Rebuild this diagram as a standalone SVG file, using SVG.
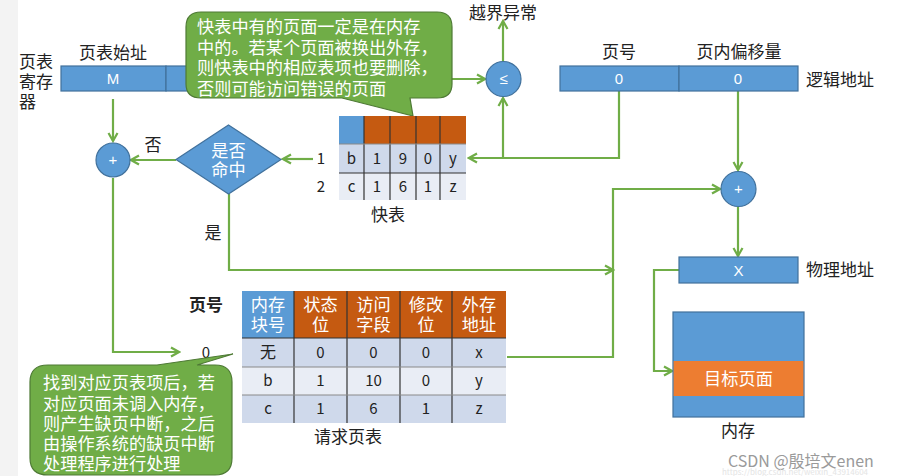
<svg xmlns="http://www.w3.org/2000/svg" width="909" height="476" viewBox="0 0 909 476">
<style>
text{font-family:"Noto Sans CJK SC","Noto Sans",sans-serif;}
.lbl{font-size:17px;fill:#222;}
.wt{fill:#fff;font-size:15px;font-family:"Liberation Sans","Noto Sans",sans-serif;}
.ct{fill:#fff;font-size:17.2px;}
.bar{fill:#5B9BD5;stroke:#41719C;stroke-width:1.2;}
.cir{fill:#5B9BD5;stroke:#41719C;stroke-width:1.2;}
.con{fill:none;stroke:#70AD47;stroke-width:2.2;}
.hb{fill:#5B9BD5;}
.ho{fill:#C55A11;}
.r1{fill:#CFD9EB;}
.r2{fill:#E9EDF5;}
.gl{stroke:#333;stroke-width:1.2;}
.cell{font-size:15px;fill:#222;}
.co{fill:#70AD47;stroke:#4E7A35;stroke-width:1.2;}
</style>
<defs>
<marker id="ah" markerUnits="userSpaceOnUse" markerWidth="12" markerHeight="12" viewBox="0 0 12 12" refX="10" refY="6" orient="auto">
<path d="M2,1.5 L10,6 L2,10.5" fill="none" stroke="#70AD47" stroke-width="2.2"/>
</marker>
</defs>
<rect width="909" height="476" fill="#fff"/>
<rect x="0" y="0" width="18" height="476" fill="#f3f3f3"/>

<g id="connectors">
<path class="con" d="M113,99 L113,141" marker-end="url(#ah)"/>
<path class="con" d="M176,160 L131,160" marker-end="url(#ah)"/>
<path class="con" d="M313,159 L283,159" marker-end="url(#ah)"/>
<path class="con" d="M619,91 L619,158 L469,158" marker-end="url(#ah)"/>
<path class="con" d="M503,158 L503,98" marker-end="url(#ah)"/>
<path class="con" d="M452,79 L485,79" marker-end="url(#ah)"/>
<path class="con" d="M503,61 L503,21" marker-end="url(#ah)"/>
<path class="con" d="M738,91 L738,170" marker-end="url(#ah)"/>
<path class="con" d="M738,207 L738,256" marker-end="url(#ah)"/>
<path class="con" d="M229,194 L229,270 L613,270" marker-end="url(#ah)"/>
<path class="con" d="M507,357 L613,357 L613,189 L720,189" marker-end="url(#ah)"/>
<path class="con" d="M113,178 L113,352 L179,352" marker-end="url(#ah)"/>
<path class="con" d="M679,270 L654,270 L654,371 L672,371" marker-end="url(#ah)"/>
</g>

<g id="page-table-register">
<text class="lbl" x="19" y="68">页表</text>
<text class="lbl" x="19" y="88">寄存</text>
<text class="lbl" x="19" y="108">器</text>
<text class="lbl" x="113" y="59" text-anchor="middle">页表始址</text>
<rect class="bar" x="61" y="66" width="105" height="25"/>
<rect class="bar" x="166" y="66" width="100" height="25"/>
<text class="wt" x="113" y="84" text-anchor="middle">M</text>
</g>

<g id="callout-top">
<path class="co" d="M201,12 L437,12 Q452,12 452,27 L452,84 Q452,98 437,98 L410,98 L413,116 L342,98 L201,98 Q186,98 186,84 L186,27 Q186,12 201,12 Z"/>
<text class="ct" x="197" y="33">快表中有的页面一定是在内存</text>
<text class="ct" x="197" y="53.5">中的。若某个页面被换出外存，</text>
<text class="ct" x="197" y="74">则快表中的相应表项也要删除，</text>
<text class="ct" x="197" y="94.5">否则可能访问错误的页面</text>
</g>

<g id="compare">
<circle class="cir" cx="503.5" cy="79" r="17.5"/>
<text class="wt" x="503.5" y="84" text-anchor="middle" font-size="14">≤</text>
<text class="lbl" x="503" y="19" text-anchor="middle" font-size="16">越界异常</text>
</g>

<g id="logical-address">
<text class="lbl" x="619" y="58" text-anchor="middle">页号</text>
<text class="lbl" x="739" y="58" text-anchor="middle">页内偏移量</text>
<rect class="bar" x="560" y="66" width="119" height="25"/>
<rect class="bar" x="679" y="66" width="119" height="25"/>
<text class="wt" x="619" y="84" text-anchor="middle">0</text>
<text class="wt" x="738" y="84" text-anchor="middle">0</text>
<text class="lbl" x="806" y="86">逻辑地址</text>
</g>

<g id="tlb">
<rect class="hb" x="339" y="116" width="25" height="28"/>
<rect class="ho" x="364" y="116" width="102" height="28"/>
<rect class="r1" x="339" y="144" width="127" height="29"/>
<rect class="r2" x="339" y="173" width="127" height="27"/>
<g class="gl">
<line x1="364" y1="116" x2="364" y2="200"/>
<line x1="390" y1="116" x2="390" y2="200"/>
<line x1="416" y1="116" x2="416" y2="200"/>
<line x1="440" y1="116" x2="440" y2="200"/>
<line x1="339" y1="144" x2="466" y2="144" stroke="#8a8a8a"/>
<line x1="339" y1="173" x2="466" y2="173"/>
</g>
<text class="cell" x="351.5" y="164" text-anchor="middle">b</text>
<text class="cell" x="377" y="164" text-anchor="middle">1</text>
<text class="cell" x="403" y="164" text-anchor="middle">9</text>
<text class="cell" x="428" y="164" text-anchor="middle">0</text>
<text class="cell" x="453" y="164" text-anchor="middle">y</text>
<text class="cell" x="351.5" y="192" text-anchor="middle">c</text>
<text class="cell" x="377" y="192" text-anchor="middle">1</text>
<text class="cell" x="403" y="192" text-anchor="middle">6</text>
<text class="cell" x="428" y="192" text-anchor="middle">1</text>
<text class="cell" x="453" y="192" text-anchor="middle">z</text>
<text class="cell" x="321" y="164" text-anchor="middle">1</text>
<text class="cell" x="321" y="192" text-anchor="middle">2</text>
<text class="lbl" x="388" y="221" text-anchor="middle">快表</text>
</g>

<g id="hit-decision">
<path class="cir" d="M228.5,125 L281,159.5 L228.5,194 L176,159.5 Z"/>
<text class="ct" x="228.5" y="157" text-anchor="middle">是否</text>
<text class="ct" x="228.5" y="176" text-anchor="middle">命中</text>
<text class="lbl" x="153" y="151" text-anchor="middle">否</text>
<text class="lbl" x="213" y="239" text-anchor="middle">是</text>
</g>

<g id="add-left">
<circle class="cir" cx="113" cy="160" r="17"/>
<text class="wt" x="113" y="165" text-anchor="middle" font-size="14">+</text>
</g>

<g id="add-right">
<circle class="cir" cx="738.5" cy="189" r="17.5"/>
<text class="wt" x="738.5" y="194" text-anchor="middle" font-size="14">+</text>
</g>

<g id="physical-address">
<rect class="bar" x="679" y="257" width="119" height="26"/>
<text class="wt" x="738.5" y="276" text-anchor="middle">X</text>
<text class="lbl" x="806" y="276">物理地址</text>
</g>

<g id="memory">
<rect class="bar" x="673" y="312" width="131" height="105"/>
<rect x="673.6" y="361" width="129.8" height="35" fill="#ED7D31"/>
<text class="ct" x="738.5" y="385" text-anchor="middle">目标页面</text>
<text class="lbl" x="738" y="437" text-anchor="middle">内存</text>
</g>

<g id="page-table">
<text class="lbl" x="206" y="311" text-anchor="middle" font-weight="bold">页号</text>
<text class="cell" x="206" y="358" text-anchor="middle">0</text>
<rect class="hb" x="242" y="291" width="52" height="47"/>
<rect class="ho" x="294" y="291" width="212" height="47"/>
<rect class="r1" x="242" y="338" width="264" height="29"/>
<rect class="r2" x="242" y="367" width="264" height="28"/>
<rect class="r1" x="242" y="395" width="264" height="28"/>
<g class="gl">
<line x1="294" y1="291" x2="294" y2="423"/>
<line x1="347" y1="291" x2="347" y2="423"/>
<line x1="400" y1="291" x2="400" y2="423"/>
<line x1="452" y1="291" x2="452" y2="423"/>
<line x1="242" y1="338" x2="506" y2="338"/>
<line x1="242" y1="367" x2="506" y2="367" stroke="#8a8a8a"/>
<line x1="242" y1="395" x2="506" y2="395" stroke="#8a8a8a"/>
</g>
<g class="ct" text-anchor="middle" font-size="16.5">
<text x="268" y="311">内存</text><text x="268" y="331">块号</text>
<text x="320.5" y="311">状态</text><text x="320.5" y="331">位</text>
<text x="373.5" y="311">访问</text><text x="373.5" y="331">字段</text>
<text x="426" y="311">修改</text><text x="426" y="331">位</text>
<text x="479" y="311">外存</text><text x="479" y="331">地址</text>
</g>
<g class="cell" text-anchor="middle">
<text x="268" y="358" font-size="16">无</text><text x="320.5" y="358">0</text><text x="373.5" y="358">0</text><text x="426" y="358">0</text><text x="479" y="358">x</text>
<text x="268" y="386">b</text><text x="320.5" y="386">1</text><text x="373.5" y="386">10</text><text x="426" y="386">0</text><text x="479" y="386">y</text>
<text x="268" y="414">c</text><text x="320.5" y="414">1</text><text x="373.5" y="414">6</text><text x="426" y="414">1</text><text x="479" y="414">z</text>
</g>
<text class="lbl" x="348" y="443" text-anchor="middle">请求页表</text>
</g>

<g id="callout-bottom">
<path class="co" d="M48,365 L157,365 L233,354 L197,365 L215,365 Q232,365 232,382 L232,458 Q232,475 215,475 L48,475 Q30,475 30,458 L30,382 Q30,365 48,365 Z"/>
<text class="ct" x="43" y="389">找到对应页表项后，若</text>
<text class="ct" x="43" y="410">对应页面未调入内存，</text>
<text class="ct" x="43" y="430">则产生缺页中断，之后</text>
<text class="ct" x="43" y="450">由操作系统的缺页中断</text>
<text class="ct" x="43" y="470">处理程序进行处理</text>
</g>

<g id="watermark">
<text x="728" y="467" font-size="16" fill="#9a9a9a">CSDN @殷培文enen</text>
<text x="722" y="475" font-size="8" fill="#e4e4e4">https://blog.csdn.net/weixin_43914604</text>
</g>
</svg>
